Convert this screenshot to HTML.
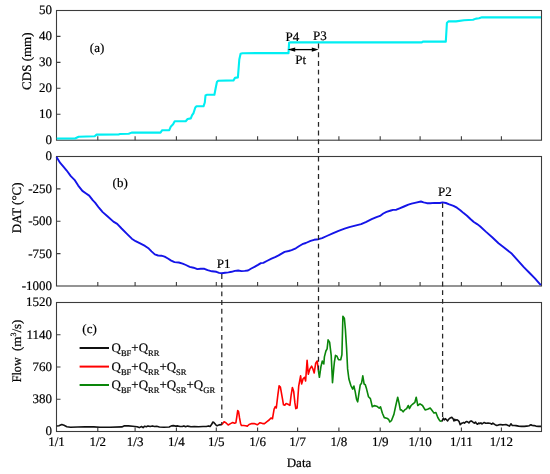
<!DOCTYPE html>
<html><head><meta charset="utf-8"><title>Figure</title>
<style>
html,body{margin:0;padding:0;background:#fff;}
svg{display:block;}
text{font-family:"Liberation Serif", "Times New Roman", serif;text-rendering:geometricPrecision;fill:#000;stroke:#000;stroke-width:0.2px;}
</style></head><body>
<svg width="550" height="474" viewBox="0 0 550 474">
<rect x="0" y="0" width="550" height="474" fill="#fff"/>

<rect x="56.5" y="10.5" width="485.0" height="129.7" fill="none" stroke="#3c3c3c" stroke-width="1.1"/>
<rect x="56.5" y="156.5" width="485.0" height="129.5" fill="none" stroke="#3c3c3c" stroke-width="1.1"/>
<rect x="56.5" y="302.5" width="485.0" height="129.0" fill="none" stroke="#3c3c3c" stroke-width="1.1"/>
<path d="M97.8,140.2 V136.2 M135.1,140.2 V136.2 M176.4,140.2 V136.2 M216.3,140.2 V136.2 M257.6,140.2 V136.2 M297.6,140.2 V136.2 M338.9,140.2 V136.2 M380.2,140.2 V136.2 M420.1,140.2 V136.2 M461.4,140.2 V136.2 M501.4,140.2 V136.2 M97.8,286.0 V282.0 M135.1,286.0 V282.0 M176.4,286.0 V282.0 M216.3,286.0 V282.0 M257.6,286.0 V282.0 M297.6,286.0 V282.0 M338.9,286.0 V282.0 M380.2,286.0 V282.0 M420.1,286.0 V282.0 M461.4,286.0 V282.0 M501.4,286.0 V282.0 M97.8,431.5 V427.5 M135.1,431.5 V427.5 M176.4,431.5 V427.5 M216.3,431.5 V427.5 M257.6,431.5 V427.5 M297.6,431.5 V427.5 M338.9,431.5 V427.5 M380.2,431.5 V427.5 M420.1,431.5 V427.5 M461.4,431.5 V427.5 M501.4,431.5 V427.5 M56.5,114.3 H60.5 M56.5,88.3 H60.5 M56.5,62.4 H60.5 M56.5,36.4 H60.5 M56.5,253.6 H60.5 M56.5,221.2 H60.5 M56.5,188.9 H60.5 M56.5,399.2 H60.5 M56.5,367.0 H60.5 M56.5,334.8 H60.5" stroke="#3c3c3c" stroke-width="1.1" fill="none"/>
<text x="52" y="144.1" text-anchor="end" font-size="13">0</text>
<text x="52" y="118.2" text-anchor="end" font-size="13">10</text>
<text x="52" y="92.2" text-anchor="end" font-size="13">20</text>
<text x="52" y="66.3" text-anchor="end" font-size="13">30</text>
<text x="52" y="40.3" text-anchor="end" font-size="13">40</text>
<text x="52" y="14.4" text-anchor="end" font-size="13">50</text>
<text x="52" y="289.9" text-anchor="end" font-size="13">-1000</text>
<text x="52" y="257.5" text-anchor="end" font-size="13">-750</text>
<text x="52" y="225.2" text-anchor="end" font-size="13">-500</text>
<text x="52" y="192.8" text-anchor="end" font-size="13">-250</text>
<text x="52" y="160.4" text-anchor="end" font-size="13">0</text>
<text x="52" y="435.4" text-anchor="end" font-size="13">0</text>
<text x="52" y="403.1" text-anchor="end" font-size="13">380</text>
<text x="52" y="370.9" text-anchor="end" font-size="13">760</text>
<text x="52" y="338.6" text-anchor="end" font-size="13">1140</text>
<text x="52" y="306.4" text-anchor="end" font-size="13">1520</text>
<text x="56.5" y="446" text-anchor="middle" font-size="13">1/1</text>
<text x="97.8" y="446" text-anchor="middle" font-size="13">1/2</text>
<text x="135.1" y="446" text-anchor="middle" font-size="13">1/3</text>
<text x="176.4" y="446" text-anchor="middle" font-size="13">1/4</text>
<text x="216.3" y="446" text-anchor="middle" font-size="13">1/5</text>
<text x="257.6" y="446" text-anchor="middle" font-size="13">1/6</text>
<text x="297.6" y="446" text-anchor="middle" font-size="13">1/7</text>
<text x="338.9" y="446" text-anchor="middle" font-size="13">1/8</text>
<text x="380.2" y="446" text-anchor="middle" font-size="13">1/9</text>
<text x="420.1" y="446" text-anchor="middle" font-size="13">1/10</text>
<text x="461.4" y="446" text-anchor="middle" font-size="13">1/11</text>
<text x="501.4" y="446" text-anchor="middle" font-size="13">1/12</text>
<text x="299" y="467" text-anchor="middle" font-size="13">Data</text>
<text transform="translate(30.6,61.2) rotate(-90)" text-anchor="middle" font-size="13">CDS (mm)</text>
<text transform="translate(20.9,207.8) rotate(-90)" text-anchor="middle" font-size="13">DAT (°C)</text>
<text transform="translate(21.1,382.3) rotate(-90)" text-anchor="start" font-size="13" textLength="25" lengthAdjust="spacingAndGlyphs">Flow</text>
<text transform="translate(21.1,319.6) rotate(-90)" text-anchor="end" font-size="13">(m<tspan font-size="8" dy="-5.5">3</tspan><tspan dy="5.5">/s)</tspan></text>
<text x="89.8" y="51.9" font-size="13">(a)</text>
<text x="112.6" y="186.7" font-size="13">(b)</text>
<text x="82.3" y="333" font-size="13">(c)</text>
<path d="M56.7,138.5 L75.0,138.5 L78.6,136.8 L94.7,136.3 L96.6,134.6 L118.5,134.5 L120.0,134.0 L128.7,133.8 L131.6,132.6 L160.5,132.6 L162.2,130.2 L169.3,130.2 L170.9,126.4 L173.1,124.2 L174.7,121.2 L185.7,121.2 L187.6,119.0 L190.8,118.4 L192.1,115.2 L193.4,113.3 L195.3,107.5 L196.5,106.3 L203.5,106.3 L204.8,102.5 L205.5,95.5 L206.7,94.8 L214.4,94.8 L215.6,88.5 L216.9,82.1 L218.2,80.8 L233.5,80.4 L235.0,77.9 L237.9,77.4 L239.3,59.5 L240.6,53.8 L242.5,53.2 L288.5,53.1 L289.1,42.7 L290.0,42.4 L319.0,42.4 L421.8,42.4 L422.9,41.6 L445.8,41.6 L446.9,23.0 L448.4,21.4 L456.0,21.4 L464.0,20.2 L473.0,19.8 L476.0,18.6 L479.0,18.2 L482.0,17.3 L541.0,17.4" stroke="#00eef2" stroke-width="2.1" fill="none" stroke-linejoin="round"/>
<path d="M56.5,157.1 L60.2,162.9 L63.4,166.6 L66.5,170.3 L70.8,176.1 L74.5,179.8 L78.2,185.6 L82.4,190.9 L86.1,193.5 L89.2,195.6 L92.9,200.4 L95.1,202.6 L98.9,207.7 L102.7,212.1 L107.7,216.5 L113.4,221.6 L117.2,223.9 L121.6,228.5 L126.7,233.6 L131.8,238.7 L135.6,241.2 L140.6,243.7 L145.0,245.9 L148.8,248.6 L151.5,251.4 L154.8,254.4 L158.1,255.5 L161.4,255.7 L164.6,256.6 L167.9,258.5 L171.2,260.6 L174.5,262.1 L178.8,262.5 L182.6,263.6 L185.9,265.0 L189.7,266.9 L193.5,267.7 L197.4,269.1 L200.6,268.8 L204.4,268.8 L207.6,270.2 L212.0,271.3 L216.4,271.8 L219.1,272.9 L221.8,273.2 L225.1,272.7 L228.4,272.4 L231.6,271.8 L234.9,270.9 L238.2,270.5 L241.5,271.1 L244.7,270.9 L248.0,270.5 L251.3,268.5 L254.5,266.9 L258.0,264.9 L260.9,263.1 L263.3,262.9 L266.8,261.0 L271.5,258.7 L275.1,257.2 L278.6,255.4 L281.6,253.6 L284.6,251.9 L288.7,251.0 L291.6,250.1 L295.8,248.3 L299.3,246.0 L302.3,244.2 L305.8,243.0 L310.6,240.9 L314.1,239.8 L318.5,239.2 L322.1,238.1 L326.8,236.0 L332.7,233.4 L338.6,230.8 L344.6,228.6 L349.3,227.2 L355.2,225.7 L361.1,224.1 L365.8,222.1 L371.7,219.2 L376.5,217.1 L380.0,215.9 L383.3,213.5 L386.5,211.9 L390.9,210.5 L393.1,209.9 L396.4,209.7 L399.6,208.3 L404.0,206.5 L408.4,204.6 L411.6,203.7 L416.0,202.6 L420.9,201.5 L423.6,202.4 L426.9,203.2 L430.2,203.2 L434.5,202.9 L440.0,203.0 L442.5,202.4 L445.9,203.0 L449.3,204.3 L453.5,205.8 L456.9,207.7 L460.3,210.2 L463.6,213.1 L467.0,215.7 L470.4,219.0 L473.8,222.0 L477.1,224.1 L480.0,226.2 L485.8,231.6 L492.2,237.2 L498.5,243.2 L504.0,247.4 L511.9,253.8 L517.5,260.1 L523.8,267.2 L530.1,273.5 L534.9,278.3 L540.8,285.2" stroke="#1414e8" stroke-width="1.9" fill="none" stroke-linejoin="round"/>
<path d="M56.7,426.0 L58.9,425.7 L61.8,424.5 L64.0,425.3 L66.9,426.7 L70.5,427.2 L77.8,427.0 L85.1,426.9 L93.8,426.9 L100.0,427.3 L110.0,427.2 L121.8,426.9 L124.0,425.9 L128.4,425.9 L132.7,426.2 L137.1,426.7 L139.3,427.6 L141.5,426.5 L143.1,427.6 L144.7,426.2 L146.4,426.7 L148.0,425.9 L150.2,426.5 L152.4,425.9 L154.5,426.5 L156.7,426.2 L159.4,427.0 L163.7,427.2 L169.2,427.0 L171.4,425.9 L173.5,425.6 L175.7,426.1 L177.9,425.9 L180.1,426.5 L182.3,426.5 L183.9,425.9 L185.5,426.8 L187.7,426.1 L191.0,426.8 L194.3,426.5 L198.6,426.8 L203.0,426.5 L206.3,426.5 L208.5,425.9 L210.1,426.5 L211.7,424.3 L212.8,422.1 L213.9,422.6 L215.0,423.7 L215.8,424.9 L217.1,425.8 L219.0,424.9 L221.5,424.6 L222.3,424.2" stroke="#111" stroke-width="1.6" fill="none" stroke-linejoin="round"/>
<path d="M441.6,421.5 L442.7,419.8 L443.3,418.2 L444.4,419.8 L445.5,418.7 L446.5,419.8 L447.6,420.9 L448.7,419.3 L449.8,418.2 L450.9,417.6 L452.0,417.4 L453.1,418.7 L454.0,420.9 L454.7,419.3 L455.8,420.4 L456.9,419.8 L458.0,420.4 L459.1,421.5 L460.2,424.7 L461.3,423.6 L462.4,423.1 L463.5,422.5 L464.5,423.1 L465.6,422.0 L466.7,421.5 L467.8,422.0 L468.9,422.9 L470.0,421.5 L471.1,420.9 L472.2,421.5 L473.3,422.5 L474.4,423.1 L475.5,422.0 L476.5,423.6 L477.6,424.2 L478.7,423.1 L479.8,423.6 L480.9,422.9 L482.0,424.0 L483.1,423.1 L484.2,422.5 L485.3,423.1 L486.4,423.3 L488.0,423.1 L489.6,423.3 L490.7,423.6 L491.8,424.2 L492.9,423.1 L494.0,424.0 L495.1,424.7 L496.8,425.5 L498.6,424.9 L500.5,424.5 L502.3,424.9 L504.1,424.7 L505.9,424.5 L507.7,425.2 L509.5,426.1 L510.9,423.8 L512.3,425.5 L514.1,425.5 L515.9,425.6 L518.6,426.1 L521.4,426.4 L524.1,426.4 L526.8,426.1 L529.1,425.8 L530.9,424.7 L532.3,425.5 L534.1,425.6 L535.9,426.1 L538.6,426.4 L541.0,426.4" stroke="#111" stroke-width="1.6" fill="none" stroke-linejoin="round"/>
<path d="M221.8,424.5 L222.7,423.6 L224.1,421.8 L225.9,422.7 L228.2,425.0 L230.5,423.6 L232.7,422.5 L234.5,423.2 L235.9,422.7 L236.8,416.8 L237.7,410.5 L238.6,411.8 L239.5,417.7 L240.5,423.2 L241.4,425.5 L243.6,425.5 L245.5,425.7 L247.3,426.1 L249.1,424.5 L251.8,423.6 L254.1,423.6 L255.5,424.1 L257.3,424.8 L260.0,422.7 L262.7,423.6 L264.5,423.6 L267.3,421.4 L269.1,420.0 L270.9,418.1 L272.5,418.7 L274.1,409.2 L275.3,406.7 L276.3,408.0 L277.8,395.3 L279.1,385.8 L280.4,387.1 L282.3,397.8 L283.5,404.8 L284.8,405.2 L286.1,403.5 L288.0,404.2 L289.9,405.4 L291.1,395.3 L292.4,387.5 L293.7,391.5 L294.9,402.9 L295.8,408.6 L297.1,408.0 L298.7,386.2 L300.6,375.8 L301.6,383.9 L303.1,378.8 L304.6,377.3 L305.6,381.0 L307.1,360.3 L308.3,374.3 L309.8,369.2 L311.6,366.2 L313.0,369.2 L314.2,372.9 L315.7,363.2 L317.2,361.0 L318.3,370.0" stroke="#f00" stroke-width="1.6" fill="none" stroke-linejoin="round"/>
<path d="M318.3,370.0 L319.4,377.3 L320.9,366.9 L322.3,361.0 L323.8,364.0 L324.4,356.9 L325.9,351.0 L327.1,348.8 L328.1,339.9 L329.6,342.1 L331.2,355.4 L332.5,382.6 L333.8,368.0 L334.4,362.0 L335.5,355.4 L337.0,356.2 L338.5,359.8 L340.7,359.8 L341.9,354.7 L342.9,316.3 L344.4,318.5 L345.4,329.6 L346.6,348.8 L347.6,368.9 L348.9,379.0 L350.8,385.3 L352.7,389.1 L353.9,386.0 L355.2,391.6 L356.5,399.2 L357.7,401.8 L359.0,392.9 L360.3,384.7 L361.5,383.4 L362.8,375.8 L364.1,384.0 L365.3,384.7 L366.6,389.1 L368.5,396.7 L370.4,398.6 L372.3,406.8 L374.2,405.6 L376.7,406.2 L379.2,408.1 L380.5,406.8 L382.4,413.2 L384.3,417.6 L386.8,418.2 L388.7,419.5 L389.8,422.0 L391.4,420.7 L393.9,414.4 L395.8,405.5 L397.7,397.2 L399.0,402.9 L400.3,409.9 L401.5,409.9 L403.1,411.8 L404.7,409.9 L406.6,408.6 L408.3,405.5 L409.4,408.6 L411.1,405.5 L413.0,403.9 L414.9,402.3 L416.2,397.2 L417.8,405.5 L420.0,403.9 L422.5,405.5 L425.1,409.9 L427.6,409.3 L430.2,408.0 L432.1,410.5 L434.0,413.1 L435.9,412.5 L437.8,417.5 L439.7,420.7 L441.6,421.5" stroke="#0a860a" stroke-width="1.6" fill="none" stroke-linejoin="round"/>
<path d="M318.5,43.6 V370" stroke="#262626" stroke-width="1.25" stroke-dasharray="4.9 3.8" fill="none"/>
<path d="M221.8,274 V424" stroke="#262626" stroke-width="1.25" stroke-dasharray="4.9 3.8" fill="none"/>
<path d="M442.6,203.2 V420" stroke="#262626" stroke-width="1.25" stroke-dasharray="4.9 3.8" fill="none"/>
<path d="M292,49.6 H315.5" stroke="#000" stroke-width="1.3"/>
<path d="M287.6,49.6 L295.2,47.5 L295.2,51.7 Z M318.7,49.6 L311.8,47.5 L311.8,51.7 Z" fill="#000"/>
<text x="285.6" y="40.6" font-size="13">P4</text>
<text x="313" y="39.5" font-size="13">P3</text>
<text x="295.3" y="63.5" font-size="13">Pt</text>
<text x="216.7" y="268.4" font-size="13">P1</text>
<text x="438" y="196.2" font-size="13">P2</text>
<path d="M79.6,348 H109" stroke="#111" stroke-width="2"/>
<path d="M79.6,366.6 H109" stroke="#f00" stroke-width="2"/>
<path d="M79.6,385 H109" stroke="#0a860a" stroke-width="2"/>
<text x="111.5" y="352.3" font-size="13">Q<tspan font-size="8.5" dy="4">BF</tspan><tspan dy="-4">+Q</tspan><tspan font-size="8.5" dy="4">RR</tspan></text>
<text x="111.5" y="370.9" font-size="13">Q<tspan font-size="8.5" dy="4">BF</tspan><tspan dy="-4">+Q</tspan><tspan font-size="8.5" dy="4">RR</tspan><tspan dy="-4">+Q</tspan><tspan font-size="8.5" dy="4">SR</tspan></text>
<text x="111.5" y="389.3" font-size="13">Q<tspan font-size="8.5" dy="4">BF</tspan><tspan dy="-4">+Q</tspan><tspan font-size="8.5" dy="4">RR</tspan><tspan dy="-4">+Q</tspan><tspan font-size="8.5" dy="4">SR</tspan><tspan dy="-4">+Q</tspan><tspan font-size="8.5" dy="4">GR</tspan></text>
</svg>
</body></html>
